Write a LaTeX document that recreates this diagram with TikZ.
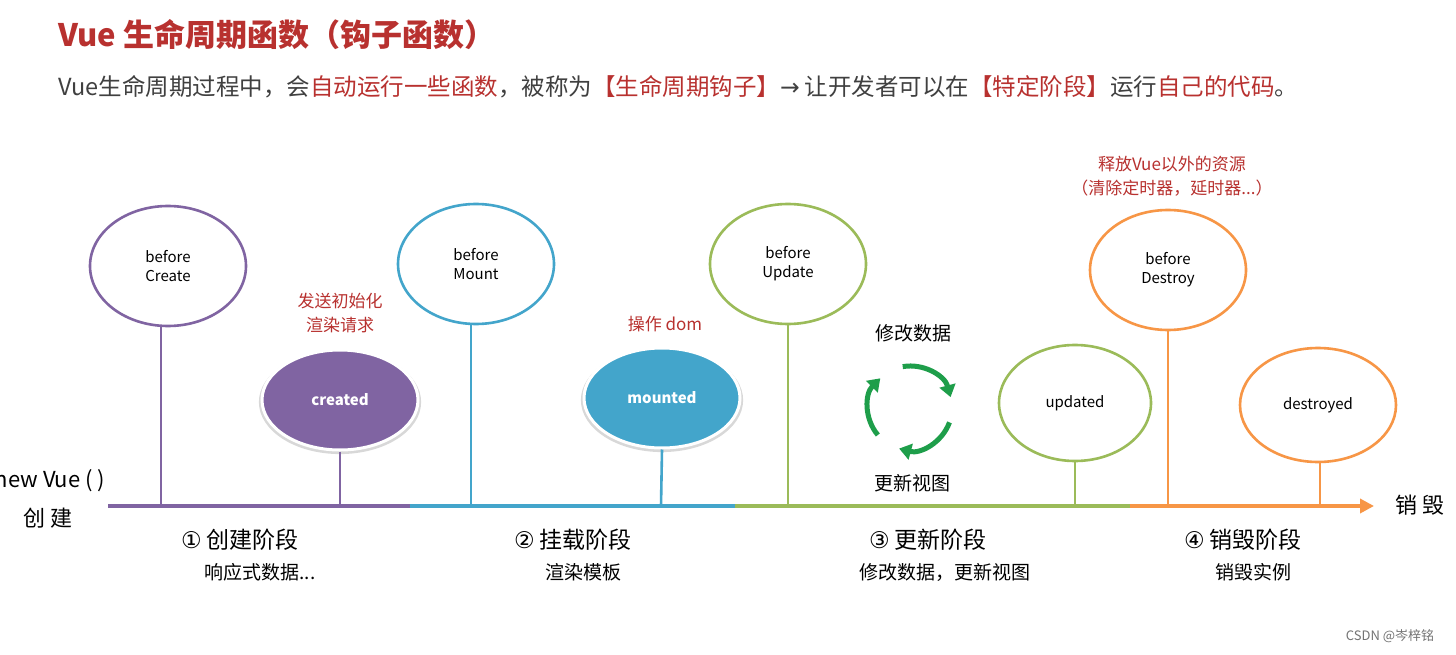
\documentclass[tikz,border=0pt]{standalone}
\usepackage{fontspec}
\setmainfont{Noto Sans CJK SC}
\newfontfamily\dvs{DejaVu Sans}
\usetikzlibrary{arrows.meta,shapes.geometric,shadows}
\definecolor{cpur}{HTML}{8064A2}
\definecolor{cblu}{HTML}{43A5CB}
\definecolor{cgrn}{HTML}{9BBB59}
\definecolor{corg}{HTML}{F79646}
\definecolor{cred}{HTML}{B8312F}
\definecolor{cicon}{HTML}{1E9E4A}
\tikzset{
  hook/.style={ellipse,draw,line width=2.6pt,fill=white,minimum width=156pt,minimum height=120pt,font=\fontsize{15}{19}\selectfont,align=center,inner sep=0pt},
  filled/.style={ellipse,draw=white,line width=3pt,minimum width=156pt,minimum height=100pt,font=\bfseries\fontsize{15}{19}\selectfont,text=white,inner sep=0pt,drop shadow={opacity=0.3,shadow xshift=0pt,shadow yshift=-2pt,shadow scale=1.04}},
  stem/.style={line width=2.6pt},
  note/.style={text=cred,font=\fontsize{17}{24}\selectfont,align=center},
  phase/.style={font=\fontsize{23}{27}\selectfont},
  sub/.style={font=\fontsize{19}{23}\selectfont},
}
\begin{document}
\begin{tikzpicture}[x=1pt,y=-1pt]
\useasboundingbox (0,0) rectangle (1456,655);
\fill[white] (0,0) rectangle (1456,655);
\node[anchor=west,text=cred,font=\bfseries\fontsize{31}{35}\selectfont] (title) at (55,35) {Vue 生命周期函数（钩子函数）};
\node[anchor=west,font=\fontsize{23.5}{28}\selectfont,text={black!75}] (subt) at (55,87) {Vue生命周期过程中，会\textcolor{cred}{自动运行一些函数}，被称为\textcolor{cred}{【生命周期钩子】}{\dvs →} 让开发者可以在\textcolor{cred}{【特定阶段】}运行\textcolor{cred}{自己的代码}。};
% timeline
\coordinate (t0) at (108,506); \coordinate (t1) at (410,506); \coordinate (t2) at (735,506); \coordinate (t3) at (1130,506); \coordinate (t4) at (1374,506);
\draw[cpur,line width=4pt] (t0) -- (t1);
\draw[cblu,line width=4pt] (t1) -- (t2);
\draw[cgrn,line width=4pt] (t2) -- (t3);
\draw[corg,line width=4pt,-{Triangle[length=14pt,width=14pt]}] (t3) -- (t4);
\node[font=\fontsize{22}{26}\selectfont] (nv) at (50,481) {new Vue ( )};
\node[font=\fontsize{22}{26}\selectfont] (cj) at (48,518) {创\ 建};
\node[font=\fontsize{22}{26}\selectfont] (xh) at (1420,505) {销\ 毁};
% stems
\coordinate (s1) at (161,506); \coordinate (s2) at (340,506); \coordinate (s3) at (471,506); \coordinate (s4) at (661,506);
\coordinate (s5) at (788,506); \coordinate (s6) at (1075,506); \coordinate (s7) at (1168,506); \coordinate (s8) at (1320,506);
\node[hook,draw=cpur] (bc) at (168,266) {before\\Create};
\node[filled,fill=cpur] (cr) at (340,400) {created};
\node[hook,draw=cblu] (bm) at (476,264) {before\\Mount};
\node[filled,fill=cblu] (mo) at (662,398) {mounted};
\node[hook,draw=cgrn] (bu) at (788,264) {before\\Update};
\node[hook,draw=cgrn,minimum width=152pt,minimum height=116pt] (up) at (1075,403) {updated};
\node[hook,draw=corg] (bd) at (1168,270) {before\\Destroy};
\node[hook,draw=corg,minimum width=156pt,minimum height=114pt] (de) at (1318,405) {destroyed};
\draw[stem,cpur] (bc.south -| s1) -- (s1);
\draw[stem,cpur] (cr.south) -- (s2);
\draw[stem,cblu] (bm.south -| s3) -- (s3);
\draw[stem,cblu] (mo.south) -- (s4);
\draw[stem,cgrn] (bu.south) -- (s5);
\draw[stem,cgrn] (up.south) -- (s6);
\draw[stem,corg] (bd.south) -- (s7);
\draw[stem,corg] (de.south -| s8) -- (s8);
% notes
\node[note] (n1) at (340,313) {发送初始化\\渲染请求};
\node[note] (n2) at (665,324) {操作 dom};
\node[note] (n3) at (1172,176) {释放Vue以外的资源\\（清除定时器，延时器...）};
\node[font=\fontsize{19}{24}\selectfont] (xg) at (913,333) {修改数据};
\node[font=\fontsize{19}{24}\selectfont] (gx) at (912,483) {更新视图};
% cycle icon
\coordinate (cc) at (910,408);
\foreach \a in {20,140,260}{
  \draw[cicon,line width=5pt,-{Triangle[length=12pt,width=16pt]}] ([shift={(\a:42)}]cc) arc[start angle=\a,end angle=\a+85,radius=42];
}
% phases
\node[phase] (p1) at (240,540) {{\dvs ①} 创建阶段};
\node[sub] (q1) at (260,572) {响应式数据...};
\node[phase] (p2) at (573,540) {{\dvs ②} 挂载阶段};
\node[sub] (q2) at (583,572) {渲染模板};
\node[phase] (p3) at (928,540) {{\dvs ③} 更新阶段};
\node[sub] (q3) at (945,572) {修改数据，更新视图};
\node[phase] (p4) at (1243,540) {{\dvs ④} 销毁阶段};
\node[sub] (q4) at (1253,572) {销毁实例};
\node[text=black!55,font=\fontsize{13}{16}\selectfont] (csdn) at (1390,636) {CSDN @岑梓铭};
\end{tikzpicture}
\end{document}
